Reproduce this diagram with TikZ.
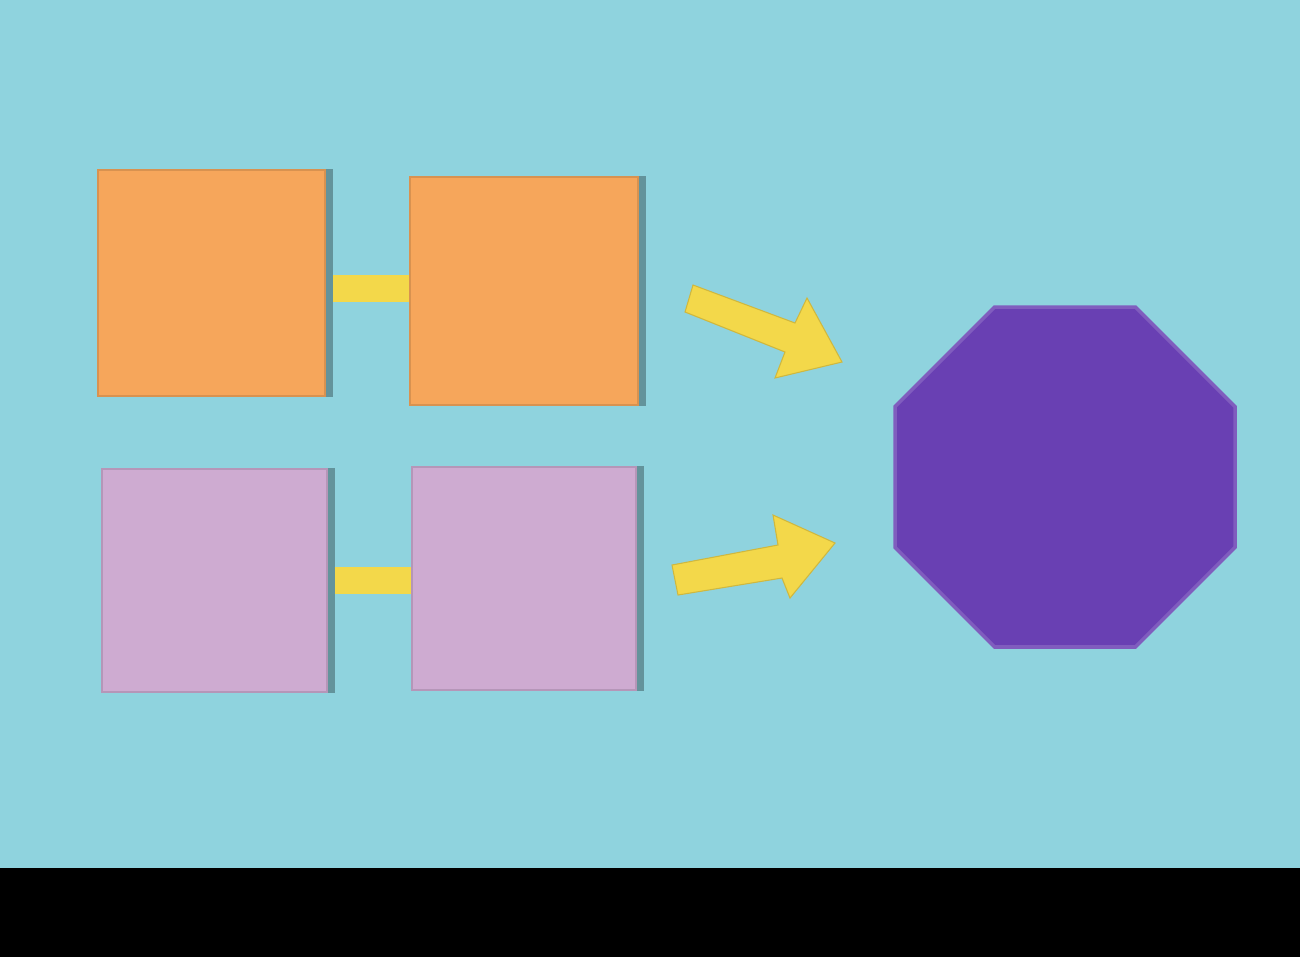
\documentclass[tikz,border=0pt]{standalone}
\usetikzlibrary{positioning,shapes.geometric}
\definecolor{paperblue}{HTML}{8FD3DE}
\definecolor{paperorange}{HTML}{F6A65B}
\definecolor{paperpink}{HTML}{CEABD1}
\definecolor{paperpurple}{HTML}{6940B3}
\definecolor{paperyellow}{HTML}{F3D84A}
\tikzset{
  card/.style={rectangle, draw=#1!88!black, line width=0.5pt, fill=#1, inner sep=0pt},
  shade edge/.style={paperblue!45!black, opacity=0.55, line width=2pt},
  link/.style={line width=2.7mm, paperyellow},
  arrowcut/.style={fill=paperyellow, draw=paperyellow!85!black, line width=0.3pt}
}
\begin{document}
\begin{tikzpicture}[node distance=1cm, thick]
        \useasboundingbox (0,0) rectangle (13,9.57);
        \fill[paperblue] (0,0.89) rectangle (13,9.57);
        \fill[black] (0,0) rectangle (13,0.89);

        % Nodes
        \node (orange1) [card=paperorange, minimum width=2.27cm, minimum height=2.26cm] at (2.115,6.74) {};
        \node (orange2) [card=paperorange, minimum width=2.28cm, minimum height=2.28cm, right=0.83cm of orange1, yshift=-0.8mm] {};
        \node (pink1) [card=paperpink, minimum width=2.25cm, minimum height=2.23cm, below=0.71cm of orange1, xshift=0.3mm] {};
        \node (pink2) [card=paperpink, minimum width=2.24cm, minimum height=2.23cm, right=0.83cm of pink1, yshift=0.2mm] {};
        \node (stop) [regular polygon, regular polygon sides=8, minimum size=3.68cm, inner sep=0pt,
          fill=paperpurple, draw=paperpurple!85!white, line width=1pt] at (10.65,4.80) {};

        % Shadows on the right edges
        \draw[shade edge] ([xshift=1pt]orange1.north east) -- ([xshift=1pt]orange1.south east);
        \draw[shade edge] ([xshift=1pt]orange2.north east) -- ([xshift=1pt]orange2.south east);
        \draw[shade edge] ([xshift=1pt]pink1.north east) -- ([xshift=1pt]pink1.south east);
        \draw[shade edge] ([xshift=1pt]pink2.north east) -- ([xshift=1pt]pink2.south east);

        % Edges
        \draw[link] ([yshift=-0.55mm, xshift=2pt]orange1.east) -- ([yshift=-0.55mm]orange1.east -| orange2.west);
        \draw[link] ([xshift=2pt]pink1.east) -- (pink1.east -| pink2.west);

        % Arrows
        \draw[arrowcut] (6.93,6.72) -- (7.95,6.34) -- (8.07,6.59) -- (8.42,5.95)
          -- (7.75,5.79) -- (7.85,6.05) -- (6.85,6.45) -- cycle;
        \draw[arrowcut] (6.72,3.92) -- (7.78,4.12) -- (7.73,4.42) -- (8.35,4.14)
          -- (7.90,3.59) -- (7.82,3.79) -- (6.78,3.62) -- cycle;
    \end{tikzpicture}
\end{document}
